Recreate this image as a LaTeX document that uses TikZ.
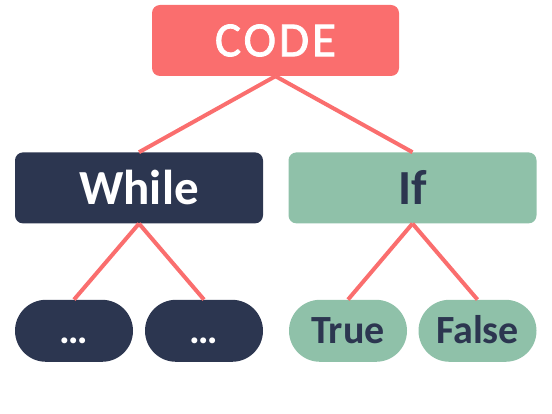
\documentclass[tikz,border=0pt]{standalone}
\usepackage{fontspec}
\setmainfont{Carlito}
\newfontface\codefont{Carlito}[FakeBold=1.6, LetterSpace=6]
\usepackage{xcolor}
\usetikzlibrary{positioning}

\definecolor{coral}{RGB}{250,110,110}
\definecolor{navy}{RGB}{44,54,80}
\definecolor{sage}{RGB}{143,193,169}

\begin{document}
\begin{tikzpicture}[
    x=1pt, y=1pt,
    root/.style={rectangle, fill=coral, text=white, minimum width=247pt, minimum height=71pt, rounded corners=8pt, font=\codefont\fontsize{49}{54}\selectfont, inner sep=0pt},
    branch/.style={rectangle, minimum width=248pt, minimum height=71pt, rounded corners=8pt, font=\fontsize{49}{54}\selectfont\bfseries, inner sep=0pt},
    leaf/.style={rectangle, minimum width=118pt, minimum height=62pt, rounded corners=31pt, font=\fontsize{40}{44}\selectfont\bfseries, inner sep=0pt, text height=26pt, text depth=0pt},
    loop/.style={fill=navy, text=white},
    cond/.style={fill=sage, text=navy},
    link/.style={draw=coral, line width=4pt}
]
    \useasboundingbox (0,0) rectangle (552,-414);

    % Nodes
    \node[root] (code) at (275.5,-40.5) {CODE};
    \node[branch, loop, below=76pt of code, xshift=-136.5pt] (while) {While};
    \node[branch, cond, below=76pt of code, xshift=137pt] (if) {If};
    \node[leaf, loop, below=76pt of while, xshift=-65pt] (dotsa) {…};
    \node[leaf, loop, below=76pt of while, xshift=65pt] (dotsb) {…};
    \node[leaf, cond, below=76pt of if, xshift=-64.5pt] (true) {True};
    \node[leaf, cond, below=76pt of if, xshift=65pt] (false) {False};

    % Lines
    \draw[link] (code.south) -- (while.north);
    \draw[link] (code.south) -- (if.north);
    \draw[link] (while.south) -- (dotsa.north);
    \draw[link] (while.south) -- (dotsb.north);
    \draw[link] (if.south) -- (true.north);
    \draw[link] (if.south) -- (false.north);
\end{tikzpicture}
\end{document}
